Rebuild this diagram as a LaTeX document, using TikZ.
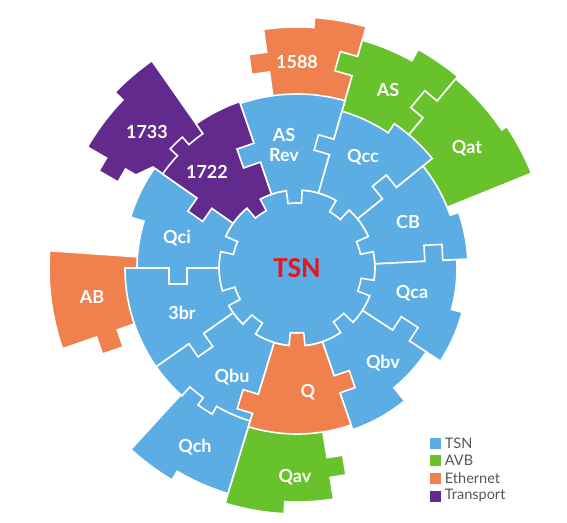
\documentclass[tikz,border=0pt]{standalone}
\usepackage{fontspec}
\setmainfont{Lato}
\newfontfamily\tsnfont{Carlito}
\usetikzlibrary{calc,positioning}
\definecolor{tsnblue}{RGB}{92,173,227}
\definecolor{avbgreen}{RGB}{103,194,44}
\definecolor{ethorange}{RGB}{240,128,78}
\definecolor{trpurple}{RGB}{99,42,141}
\definecolor{tsnred}{RGB}{228,24,36}
\definecolor{keygray}{RGB}{85,85,85}
% half width of a puzzle tab
\def\tabw{8}
% arc at radius #3 from angle #1 to #2, with a tab at angle #4 sticking out by #5
\newcommand\tabarc[5]{arc[start angle=#1,end angle={#4-sign((#2)-(#1))*\tabw*57.3/#3},radius=#3]
  -- ({#4-sign((#2)-(#1))*\tabw*57.3/#3}:{#3+(#5)})
  arc[start angle={#4-sign((#2)-(#1))*\tabw*57.3/#3},end angle={#4+sign((#2)-(#1))*\tabw*57.3/#3},radius={#3+(#5)}]
  -- ({#4+sign((#2)-(#1))*\tabw*57.3/#3}:#3)
  arc[start angle={#4+sign((#2)-(#1))*\tabw*57.3/#3},end angle=#2,radius=#3]}
% along the ray at angle #1 from radius #2 to #3, tab sticking out by #4 (+ = ccw)
\newcommand\sidetab[4]{-- (#1:#2) -- ($(#1:#2)+(#1+90:#4)$) -- ($(#1:#3)+(#1+90:#4)$) -- (#1:#3)}

\begin{document}
\begin{tikzpicture}[x=1pt,y=1pt,
  piece/.style={draw=white,line width=1.6pt},
  lbl/.style={text=white,font=\bfseries\fontsize{18}{20}\selectfont,align=center,inner sep=1pt},
  swatch/.style={minimum size=11pt,inner sep=0pt},
  keytext/.style={text=keygray,font=\fontsize{14.5}{16}\selectfont,inner sep=1pt}]
\useasboundingbox (-297,-254) rectangle (270,268);
% radii: hub, inner edge of the outer ring
\def\rh{78}\def\ro{150}
%------------- hub
\draw[piece,fill=tsnblue] (0,0) circle[radius=\rh];
%------------- outer ring
\draw[piece,fill=ethorange] (74:\ro) arc[start angle=74,end angle=98,radius=\ro] \sidetab{98}{198}{218}{18}
  -- (98:241) arc[start angle=98,end angle=86,radius=241] -- (86:251) arc[start angle=86,end angle=74,radius=251] -- cycle;
\draw[piece,fill=avbgreen] (50:\ro) arc[start angle=50,end angle=74,radius=\ro] \sidetab{74}{200}{220}{18}
  -- (74:237) arc[start angle=74,end angle=61,radius=237] -- (61:250) arc[start angle=61,end angle=50,radius=250] -- cycle;
\draw[piece,fill=avbgreen] (22:\ro) arc[start angle=22,end angle=50,radius=\ro] \sidetab{50}{196}{218}{16}
  -- (50:247) arc[start angle=50,end angle=34,radius=247] -- (34:253) arc[start angle=34,end angle=22,radius=253] -- cycle;
\draw[piece,fill=trpurple] (125:\ro) arc[start angle=125,end angle=145,radius=\ro] -- (145:176) -- (150:186) \sidetab{150}{198}{220}{15}
  -- (150:242) arc[start angle=150,end angle=136,radius=242] -- (136:253) arc[start angle=136,end angle=125,radius=253] -- cycle;
\draw[piece,fill=ethorange] (176:\ro) arc[start angle=176,end angle=199,radius=\ro] \sidetab{199}{190}{212}{18}
  -- (199:248) arc[start angle=199,end angle=176,radius=248] -- cycle;
\draw[piece,fill=tsnblue] (-132.5:\ro) arc[start angle=-132.5,end angle=-107,radius=\ro]
  -- (-107:236) arc[start angle=-107,end angle=-120.5,radius=236] -- (-120.5:246) arc[start angle=-120.5,end angle=-132.5,radius=246] -- cycle;
\draw[piece,fill=avbgreen] (-107:\ro) arc[start angle=-107,end angle=-81,radius=\ro] \sidetab{-81}{192}{212}{16}
  -- (-81:234) arc[start angle=-81,end angle=-93,radius=234] -- (-93:246) arc[start angle=-93,end angle=-107,radius=246] -- cycle;
%------------- inner ring
\draw[piece,fill=tsnblue] (-145:\rh) \tabarc{-145}{-107}{\rh}{-128}{-13}
  -- (-107:160) \tabarc{-107}{-132}{160}{-123}{9} -- (-132:172) arc[start angle=-132,end angle=-145,radius=172] -- cycle;
\draw[piece,fill=tsnblue] (-180:\rh) \tabarc{-180}{-145}{\rh}{-157}{-13} \sidetab{-145}{114}{132}{16}
  -- (-145:172) arc[start angle=-145,end angle=-180,radius=172] -- cycle;
\draw[piece,fill=tsnblue] (145:\rh) \tabarc{145}{180}{\rh}{162}{-13} \sidetab{180}{110}{128}{16}
  -- (180:160) arc[start angle=180,end angle=163,radius=160] -- (163:174) arc[start angle=163,end angle=145,radius=174] -- cycle;
\draw[piece,fill=trpurple] (109:\rh) \tabarc{109}{145}{\rh}{124}{-13} \sidetab{145}{104}{122}{16}
  -- (145:164) \tabarc{145}{125}{164}{134}{10} -- (125:176) arc[start angle=125,end angle=109,radius=176] -- cycle;
\draw[piece,fill=tsnblue] (74:\rh) \tabarc{74}{109}{\rh}{92}{-13} \sidetab{109}{112}{132}{18}
  -- (109:174) arc[start angle=109,end angle=74,radius=174] -- cycle;
\draw[piece,fill=tsnblue] (39:\rh) \tabarc{39}{74}{\rh}{54}{-13} \sidetab{74}{118}{134}{16}
  -- (74:163) arc[start angle=74,end angle=56,radius=163] -- (56:174) arc[start angle=56,end angle=39,radius=174] -- cycle;
\draw[piece,fill=tsnblue] (3:\rh) \tabarc{3}{39}{\rh}{18}{-13} \sidetab{39}{110}{128}{16}
  -- (39:162) arc[start angle=39,end angle=19,radius=162] -- (19:171) arc[start angle=19,end angle=3,radius=171] -- cycle;
\draw[piece,fill=tsnblue] (-33:\rh) \tabarc{-33}{3}{\rh}{-15}{-13} \sidetab{3}{128}{146}{16}
  -- (3:160) arc[start angle=3,end angle=-15,radius=160] -- (-15:171) arc[start angle=-15,end angle=-33,radius=171] -- cycle;
\draw[piece,fill=tsnblue] (-71:\rh) \tabarc{-71}{-33}{\rh}{-50}{-13} \sidetab{-33}{114}{134}{16}
  -- (-33:154) arc[start angle=-33,end angle=-51,radius=154] -- (-51:171) arc[start angle=-51,end angle=-71,radius=171] -- cycle;
\draw[piece,fill=ethorange] (-107:\rh) \tabarc{-107}{-71}{\rh}{-90}{-13} \sidetab{-71}{114}{132}{16}
  -- (-71:166) arc[start angle=-71,end angle=-107,radius=166] \sidetab{-107}{152}{132}{-16} -- cycle;
%------------- labels
\node[text=tsnred,font=\tsnfont\bfseries\fontsize{29}{30}\selectfont] (tsn) at (0,0) {TSN};
\node[lbl] (asrev) at (-13,123) {AS\\Rev};
\node[lbl] (qcc) at (66,111) {Qcc};
\node[lbl] (cb) at (111,46) {CB};
\node[lbl] (qca) at (115,-25) {Qca};
\node[lbl] (qbv) at (86,-95) {Qbv};
\node[lbl] (q) at (11,-124) {Q};
\node[lbl] (qbu) at (-65,-109) {Qbu};
\node[lbl] (br3) at (-115,-45) {3br};
\node[lbl] (qci) at (-120,30) {Qci};
\node[lbl] (t1722) at (-90,96) {1722};
\node[lbl] (t1588) at (0,206) {1588};
\node[lbl] (as) at (91,178) {AS};
\node[lbl] (qat) at (170,120) {Qat};
\node[lbl] (qav) at (-2,-209) {Qav};
\node[lbl] (qch) at (-102,-179) {Qch};
\node[lbl] (ab) at (-205,-29) {AB};
\node[lbl] (t1733) at (-150,136) {1733};
%------------- legend
\node[swatch,fill=tsnblue] (ktsn) at (138,-175) {};
\node[swatch,fill=avbgreen] (kavb) at (138,-192) {};
\node[swatch,fill=ethorange] (keth) at (138,-210) {};
\node[swatch,fill=trpurple] (ktr) at (138,-228) {};
\node[keytext,right=3pt of ktsn] (ltsn) {TSN};
\node[keytext,right=3pt of kavb] (lavb) {AVB};
\node[keytext,right=3pt of keth] (leth) {Ethernet};
\node[keytext,right=3pt of ktr] (ltr) {Transport};
\end{tikzpicture}
\end{document}
